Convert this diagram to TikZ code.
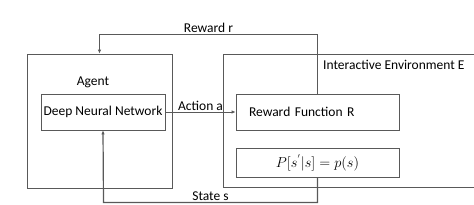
\documentclass[tikz,border=0pt]{standalone}
\usepackage{fontspec}
\setmainfont{Carlito}
\usetikzlibrary{arrows.meta}
\begin{document}
\begin{tikzpicture}[x=1pt,y=1pt,
box/.style={draw=black!65, rectangle, line width=0.8pt, inner sep=0pt},
conn/.style={draw=black!65, line width=0.8pt, -{Latex[length=4pt,width=3.5pt]}},
lbl/.style={above, inner sep=1.5pt},
every node/.style={font=\fontsize{13.5}{16}\selectfont}
]
\useasboundingbox (0,0) rectangle (474,204);
\clip (0,0) rectangle (474,204);
% boxes
\node[box, minimum width=145pt, minimum height=134pt] (agent) at (99.5,83) {};
\node[box, minimum width=253pt, minimum height=133pt] (env) at (349.5,83.5) {};
\node[box, minimum width=124pt, minimum height=36pt] (dnn) at (103,92) {Deep Neural Network};
\node[box, text width=137pt, align=left, inner xsep=13pt, minimum height=36pt] (rf) at (317.5,92) {Reward Function R};
\node[box, minimum width=163pt, minimum height=29pt] (p) at (317.5,41.5) {$P[s^{'}|s]=p(s)$};
% titles
\node (agentlbl) at (93,122) {Agent};
\node[anchor=west, inner sep=0pt] (envlbl) at (323,139) {Interactive Environment E};
% connectors
\draw[conn] (dnn) -- node[lbl]{Action a} (rf);
\draw[conn] (rf.north) -- ++(0,59) -- node[lbl]{Reward r} ++(-218,0) -- (agent.north);
\draw[conn, line width=1.2pt] (p.south) -- ++(0,-25) -- node[lbl]{State s} ++(-214,0) -- (dnn.south);
\end{tikzpicture}
\end{document}
